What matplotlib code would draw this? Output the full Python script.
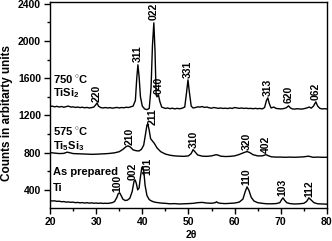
import matplotlib
matplotlib.use("Agg")
import matplotlib.pyplot as plt
from matplotlib.ticker import MultipleLocator

plt.rcParams['font.family'] = ['Liberation Sans', 'DejaVu Sans']
plt.rcParams['font.weight'] = 'bold'
plt.rcParams['mathtext.fontset'] = 'custom'
plt.rcParams['mathtext.rm'] = 'Liberation Sans:bold'
plt.rcParams['mathtext.it'] = 'Liberation Sans:bold'
plt.rcParams['mathtext.bf'] = 'Liberation Sans:bold'

# As prepared Ti
ti_x = [20, 20.5, 21, 21.5, 22, 22.5, 23, 23.5, 24, 24.5, 25, 25.5, 26, 26.5, 27, 27.5, 28, 28.5, 29, 29.5,
        30, 30.5, 31, 31.5, 32, 32.5, 33, 33.5, 34, 34.5, 34.8, 35.1, 35.4, 35.8, 36.3, 36.8, 37.3, 37.8,
        38.2, 38.45, 38.7, 39.0, 39.3, 39.6, 39.9, 40.1, 40.35, 40.6, 41.0, 41.5, 42, 42.5, 43, 44, 45, 46,
        47, 48, 49, 50, 51, 52, 53, 54, 55, 55.8, 56.1, 56.4, 57, 58, 59, 60, 61, 61.8, 62.3, 62.7, 63.1,
        63.6, 64.2, 65, 66, 67, 68, 69, 69.8, 70.2, 70.5, 70.8, 71.3, 72, 73, 74, 75, 75.6, 76.1, 76.6,
        77.2, 78, 79, 80]
ti_y = [285, 280, 282, 276, 278, 272, 274, 268, 270, 266, 268, 262, 265, 260, 263, 258, 262, 257, 260, 256,
        258, 255, 258, 254, 256, 254, 258, 262, 275, 320, 360, 368, 340, 300, 285, 290, 310, 380,
        490, 507, 470, 400, 420, 540, 640, 650, 590, 450, 340, 295, 280, 270, 265, 258, 255, 250,
        252, 248, 250, 252, 255, 262, 265, 258, 256, 262, 272, 260, 255, 252, 255, 258, 268, 300, 380, 432, 395,
        320, 280, 262, 255, 250, 250, 252, 262, 295, 314, 290, 262, 252, 248, 250, 255, 275, 314, 290,
        262, 250, 248, 246]

# 575 C Ti5Si3
t5_x = [20, 21, 22, 23, 23.7, 24.2, 25, 26, 27, 28, 29, 30, 31, 32, 33, 34, 35, 35.8, 36.5, 36.9, 37.4,
        38, 38.7, 39.3, 39.8, 40.3, 40.7, 41.0, 41.2, 41.5, 41.8, 42.2, 42.6, 43.2, 44, 45, 46, 47, 48, 49,
        50, 50.6, 51.0, 51.4, 52, 53, 54, 55, 56, 56.5, 57, 58, 59, 60, 61, 62, 62.7, 63.3, 64, 65, 66,
        66.8, 67.4, 68, 69, 70, 71, 72, 73, 74, 75, 76, 76.6, 77, 78, 79, 80]
t5_y = [800, 795, 790, 792, 805, 800, 790, 788, 786, 784, 782, 783, 786, 788, 792, 798, 810, 835, 865, 873, 860,
        830, 820, 818, 835, 880, 1000, 1095, 1110, 1040, 950, 925, 900, 850, 810, 785, 772, 765, 762, 760,
        765, 790, 832, 810, 775, 762, 760, 765, 778, 772, 762, 758, 760, 765, 780, 800, 812, 800, 778, 765, 765,
        778, 765, 755, 752, 752, 750, 752, 750, 752, 755, 762, 755, 750, 752, 750, 750]

# 750 C TiSi2
t2_x = [20, 20.5, 21, 21.5, 22, 22.5, 23, 23.5, 24, 24.5, 25, 25.5, 26, 26.5, 27, 27.5, 28, 28.5, 29, 29.5,
        30.0, 30.2, 30.5, 31, 31.5, 32, 32.5, 33, 33.5, 34, 34.5, 35, 35.5, 36, 36.5, 37, 37.5, 38, 38.5,
        38.8, 39.05, 39.3, 39.6, 40.0, 40.5, 41.0, 41.5, 41.9, 42.2, 42.5, 42.75, 43.0, 43.2, 43.5, 43.8,
        44.2, 45, 45.5, 46, 46.5, 47, 47.5, 48, 48.5, 49.2, 49.6, 49.9, 50.2, 50.6, 51, 51.5, 52, 52.5, 53,
        53.5, 54, 54.5, 55, 55.5, 56, 56.5, 57, 57.5, 58, 58.5, 59, 59.5, 60, 60.5, 61, 61.5, 62, 62.5, 63,
        63.5, 64, 64.5, 65, 65.5, 66, 66.5, 66.9, 67.2, 67.5, 67.9, 68.5, 69, 69.5, 70, 70.5, 71.2, 71.7,
        72.1, 72.5, 73, 73.5, 74, 74.5, 75, 75.5, 76.2, 76.6, 77.1, 77.6, 78.0, 78.5, 79, 79.5, 80]
t2_y = [1295, 1300, 1292, 1298, 1290, 1296, 1288, 1295, 1300, 1290, 1292, 1286, 1290, 1284, 1288, 1282, 1286, 1280, 1284, 1290,
        1320, 1335, 1300, 1284, 1280, 1285, 1280, 1284, 1278, 1282, 1286, 1280, 1285, 1282, 1288, 1285, 1292, 1300, 1360,
        1600, 1744, 1620, 1400, 1300, 1270, 1262, 1275, 1500, 1950, 2195, 1900, 1420, 1400, 1421, 1350,
        1290, 1275, 1280, 1272, 1278, 1270, 1276, 1272, 1275, 1290, 1450, 1582, 1450, 1300, 1280, 1285, 1292, 1290, 1295,
        1286, 1290, 1282, 1278, 1285, 1280, 1276, 1280, 1275, 1278, 1274, 1280, 1275, 1285, 1280, 1276, 1280, 1275, 1278, 1274,
        1276, 1272, 1276, 1272, 1275, 1270, 1285, 1360, 1389, 1330, 1280, 1290, 1275, 1272, 1270, 1272, 1282, 1303,
        1280, 1270, 1268, 1272, 1270, 1268, 1272, 1278, 1290, 1278, 1300, 1346, 1300, 1275, 1270, 1272, 1270]

# Peak labels: (text, x, y-bottom)
peak_text = ['220', '311', '022', '040', '331', '313', '620', '062',
             '211', '210', '310', '320', '402',
             '100', '002', '101', '110', '103', '112']
peak_x = [30.2, 39.1, 42.5, 43.6, 49.9, 67.2, 71.7, 77.6,
          42.3, 37.3, 51.2, 62.6, 66.8,
          34.7, 38.0, 41.2, 62.6, 70.4, 76.1]
peak_y = [1345, 1770, 2225, 1435, 1605, 1410, 1335, 1367,
          1100, 884, 851, 830, 798,
          378, 507, 561, 454, 335, 325]

sample_text = ['750 $^{\\circ}$C', 'TiSi$_2$', '575 $^{\\circ}$C', 'Ti$_5$Si$_3$', 'As prepared', 'Ti']
sample_y = [1593, 1443, 1034, 873, 594, 421]

fig = plt.figure(figsize=(3.32, 2.41), dpi=100)
ax = fig.add_axes([0.1506, 0.137, 0.834, 0.855])

for xs, ys in [(ti_x, ti_y), (t5_x, t5_y), (t2_x, t2_y)]:
    ax.plot(xs, ys, color='black', lw=1.0)

for t, x, y in zip(peak_text, peak_x, peak_y):
    ax.text(x, y, t, rotation=90, ha='center', va='bottom', fontsize=7.5, fontweight='bold')

for t, y in zip(sample_text, sample_y):
    ax.text(20.7, y, t, ha='left', va='center', fontsize=8, fontweight='bold')

ax.set_xlim(20, 80)
ax.set_ylim(205, 2420)
ax.set_xticks([20, 30, 40, 50, 60, 70, 80])
ax.set_yticks([400, 800, 1200, 1600, 2000, 2400])
ax.xaxis.set_minor_locator(MultipleLocator(5))
ax.yaxis.set_minor_locator(MultipleLocator(200))
ax.tick_params(which='major', direction='out', length=4, width=1, labelsize=7.5, pad=2.5)
ax.tick_params(which='minor', direction='out', length=2, width=1)
for lab in ax.get_xticklabels() + ax.get_yticklabels():
    lab.set_fontweight('bold')
for s in ax.spines.values():
    s.set_linewidth(1.0)

ax.set_xlabel('2θ', fontsize=7.5, fontweight='bold')
ax.xaxis.set_label_coords(0.51, -0.108)
ax.set_ylabel('Counts in arbitarty units', fontsize=8.5, fontweight='bold')
ax.yaxis.set_label_coords(-0.135, 0.46)

fig.savefig('out.png', dpi=100)
